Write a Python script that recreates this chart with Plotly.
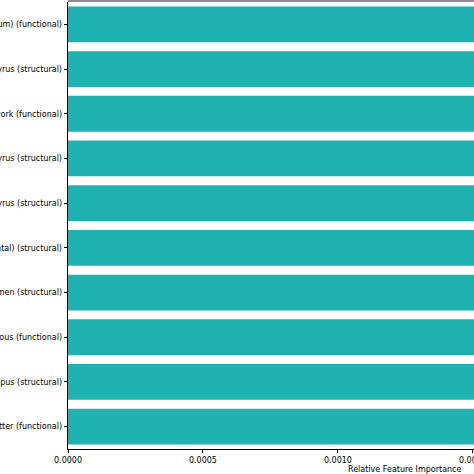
import plotly.graph_objects as go

# feature names, top to bottom (left part is cut off in the source figure)
features = [
    "Inferior Frontal Gyrus (pars opercularum) (functional)",
    "Superior Temporal Gyrus (structural)",
    "Default Mode Network (functional)",
    "Middle Frontal Gyrus (structural)",
    "Parahippocampal Gyrus (structural)",
    "Lateral Occipital Cortex (inferior frontal) (structural)",
    "Left Nucleus Accumbens Putamen (structural)",
    "Precuneous (functional)",
    "Left Hippocampus (structural)",
    "Global White Matter (functional)",
]
# every bar runs past the right edge of the crop (> 0.0015)
importance = [0.0031, 0.0029, 0.0028, 0.0027, 0.0026,
              0.0025, 0.0024, 0.0023, 0.0022, 0.0021]

x_ticks = [0.0, 0.0005, 0.0010, 0.0015]
x_ticktext = ["0.0000", "0.0005", "0.0010", "0.0015"]

BAR_COLOR = "#1fb2b0"
FONT = "DejaVu Sans"
FONT_SIZE = 8

fig = go.Figure(
    go.Bar(
        x=importance,
        y=features,
        orientation="h",
        width=0.8,
        marker=dict(color=BAR_COLOR, line=dict(width=0)),
    )
)

fig.update_layout(
    width=474,
    height=474,
    autosize=False,
    margin=dict(l=68, r=0, t=2, b=25, pad=0),
    paper_bgcolor="white",
    plot_bgcolor="white",
    showlegend=False,
    font=dict(family=FONT, size=FONT_SIZE, color="black"),
    shapes=[
        # grey strip along the top edge of the crop
        dict(type="rect", xref="paper", yref="paper",
             x0=0, x1=1.01, y0=1.0, y1=1.0075,
             fillcolor="#8c8c8c", line=dict(width=0), layer="above"),
    ],
    annotations=[
        dict(text="Relative Feature Importance", xref="x", yref="paper",
             x=0.001248, y=-0.045, xanchor="center", yanchor="middle",
             showarrow=False, font=dict(family=FONT, size=FONT_SIZE, color="black")),
    ],
)

fig.update_xaxes(
    range=[0, 0.001504],
    tickmode="array",
    tickvals=x_ticks,
    ticktext=x_ticktext,
    ticks="outside",
    ticklen=3.5,
    tickwidth=0.8,
    tickcolor="black",
    showline=True,
    linecolor="black",
    linewidth=0.8,
    showgrid=False,
    zeroline=False,
    automargin=False,
    ticklabeloverflow="allow",
    tickfont=dict(family=FONT, size=FONT_SIZE, color="black"),
)

fig.update_yaxes(
    type="category",
    range=[9.5, -0.5],
    ticks="outside",
    ticklen=3.5,
    tickwidth=0.8,
    tickcolor="black",
    showline=True,
    linecolor="black",
    linewidth=0.8,
    showgrid=False,
    zeroline=False,
    automargin=False,
    ticklabeloverflow="allow",
    tickfont=dict(family=FONT, size=FONT_SIZE, color="black"),
)

# no page margin / scrollbars so the figure sits at the window's corner
page_fix = (
    "document.documentElement.style.overflow='hidden';"
    "document.body.style.overflow='hidden';"
    "document.body.style.margin='0';"
)
fig.write_html(
    "out.html",
    config={"displayModeBar": False, "responsive": False},
    post_script=page_fix,
)
